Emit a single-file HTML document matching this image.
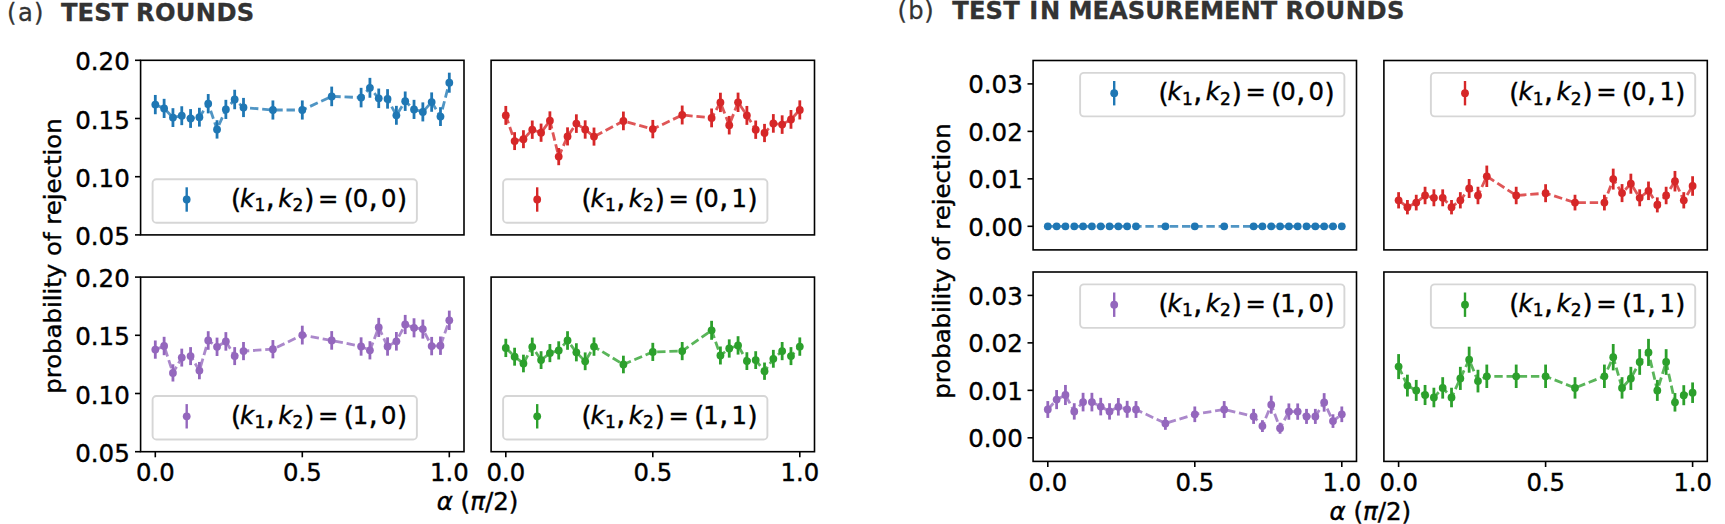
<!DOCTYPE html>
<html><head><meta charset="utf-8"><title>figure</title>
<style>html,body{margin:0;padding:0;background:#fff}svg{display:block}</style></head>
<body>
<svg width="1725" height="524" viewBox="0 0 1725 524" font-family='"DejaVu Sans", "Liberation Sans", sans-serif'>
<style>text{stroke:#000;stroke-width:0.4px}.t{stroke:#333;stroke-width:0.3px}</style>
<rect width="1725" height="524" fill="#fff"/>
<line x1="135" x2="140.6" y1="234.9" y2="234.9" stroke="#000" stroke-width="1.6"/>
<text x="129.8" y="245" font-size="24.5" text-anchor="end">0.05</text>
<line x1="135" x2="140.6" y1="176.7" y2="176.7" stroke="#000" stroke-width="1.6"/>
<text x="129.8" y="186.8" font-size="24.5" text-anchor="end">0.10</text>
<line x1="135" x2="140.6" y1="118.5" y2="118.5" stroke="#000" stroke-width="1.6"/>
<text x="129.8" y="128.6" font-size="24.5" text-anchor="end">0.15</text>
<line x1="135" x2="140.6" y1="60.3" y2="60.3" stroke="#000" stroke-width="1.6"/>
<text x="129.8" y="70.4" font-size="24.5" text-anchor="end">0.20</text>
<polyline fill="none" stroke="#1f77b4" stroke-opacity="0.78" stroke-width="2.8" stroke-dasharray="8.4 3.8" points="155.3,104.6 164.12,108.4 172.94,117.6 181.76,115.7 190.58,118.5 199.4,117.2 208.22,103.7 217.04,129.4 225.86,109.4 234.68,99.5 243.5,107.5 272.9,110 302.3,110 331.7,96.4 361.1,97.6 369.92,87.8 378.74,98.3 387.56,98.9 396.38,115.3 405.2,101.2 414.02,109.4 422.84,111.9 431.66,102.1 440.48,116.6 449.3,82.7"/>
<line x1="155.3" x2="155.3" y1="94.95" y2="114.25" stroke="#1f77b4" stroke-width="2.8"/>
<circle cx="155.3" cy="104.6" r="3.9" fill="#1f77b4"/>
<line x1="164.12" x2="164.12" y1="98.82" y2="117.98" stroke="#1f77b4" stroke-width="2.8"/>
<circle cx="164.12" cy="108.4" r="3.9" fill="#1f77b4"/>
<line x1="172.94" x2="172.94" y1="108.18" y2="127.02" stroke="#1f77b4" stroke-width="2.8"/>
<circle cx="172.94" cy="117.6" r="3.9" fill="#1f77b4"/>
<line x1="181.76" x2="181.76" y1="106.25" y2="125.15" stroke="#1f77b4" stroke-width="2.8"/>
<circle cx="181.76" cy="115.7" r="3.9" fill="#1f77b4"/>
<line x1="190.58" x2="190.58" y1="109.1" y2="127.9" stroke="#1f77b4" stroke-width="2.8"/>
<circle cx="190.58" cy="118.5" r="3.9" fill="#1f77b4"/>
<line x1="199.4" x2="199.4" y1="107.78" y2="126.62" stroke="#1f77b4" stroke-width="2.8"/>
<circle cx="199.4" cy="117.2" r="3.9" fill="#1f77b4"/>
<line x1="208.22" x2="208.22" y1="94.03" y2="113.37" stroke="#1f77b4" stroke-width="2.8"/>
<circle cx="208.22" cy="103.7" r="3.9" fill="#1f77b4"/>
<line x1="217.04" x2="217.04" y1="120.21" y2="138.59" stroke="#1f77b4" stroke-width="2.8"/>
<circle cx="217.04" cy="129.4" r="3.9" fill="#1f77b4"/>
<line x1="225.86" x2="225.86" y1="99.83" y2="118.97" stroke="#1f77b4" stroke-width="2.8"/>
<circle cx="225.86" cy="109.4" r="3.9" fill="#1f77b4"/>
<line x1="234.68" x2="234.68" y1="89.76" y2="109.24" stroke="#1f77b4" stroke-width="2.8"/>
<circle cx="234.68" cy="99.5" r="3.9" fill="#1f77b4"/>
<line x1="243.5" x2="243.5" y1="97.9" y2="117.1" stroke="#1f77b4" stroke-width="2.8"/>
<circle cx="243.5" cy="107.5" r="3.9" fill="#1f77b4"/>
<line x1="272.9" x2="272.9" y1="100.44" y2="119.56" stroke="#1f77b4" stroke-width="2.8"/>
<circle cx="272.9" cy="110" r="3.9" fill="#1f77b4"/>
<line x1="302.3" x2="302.3" y1="100.44" y2="119.56" stroke="#1f77b4" stroke-width="2.8"/>
<circle cx="302.3" cy="110" r="3.9" fill="#1f77b4"/>
<line x1="331.7" x2="331.7" y1="86.61" y2="106.19" stroke="#1f77b4" stroke-width="2.8"/>
<circle cx="331.7" cy="96.4" r="3.9" fill="#1f77b4"/>
<line x1="361.1" x2="361.1" y1="87.83" y2="107.37" stroke="#1f77b4" stroke-width="2.8"/>
<circle cx="361.1" cy="97.6" r="3.9" fill="#1f77b4"/>
<line x1="369.92" x2="369.92" y1="77.86" y2="97.74" stroke="#1f77b4" stroke-width="2.8"/>
<circle cx="369.92" cy="87.8" r="3.9" fill="#1f77b4"/>
<line x1="378.74" x2="378.74" y1="88.54" y2="108.06" stroke="#1f77b4" stroke-width="2.8"/>
<circle cx="378.74" cy="98.3" r="3.9" fill="#1f77b4"/>
<line x1="387.56" x2="387.56" y1="89.15" y2="108.65" stroke="#1f77b4" stroke-width="2.8"/>
<circle cx="387.56" cy="98.9" r="3.9" fill="#1f77b4"/>
<line x1="396.38" x2="396.38" y1="105.84" y2="124.76" stroke="#1f77b4" stroke-width="2.8"/>
<circle cx="396.38" cy="115.3" r="3.9" fill="#1f77b4"/>
<line x1="405.2" x2="405.2" y1="91.49" y2="110.91" stroke="#1f77b4" stroke-width="2.8"/>
<circle cx="405.2" cy="101.2" r="3.9" fill="#1f77b4"/>
<line x1="414.02" x2="414.02" y1="99.83" y2="118.97" stroke="#1f77b4" stroke-width="2.8"/>
<circle cx="414.02" cy="109.4" r="3.9" fill="#1f77b4"/>
<line x1="422.84" x2="422.84" y1="102.38" y2="121.42" stroke="#1f77b4" stroke-width="2.8"/>
<circle cx="422.84" cy="111.9" r="3.9" fill="#1f77b4"/>
<line x1="431.66" x2="431.66" y1="92.4" y2="111.8" stroke="#1f77b4" stroke-width="2.8"/>
<circle cx="431.66" cy="102.1" r="3.9" fill="#1f77b4"/>
<line x1="440.48" x2="440.48" y1="107.17" y2="126.03" stroke="#1f77b4" stroke-width="2.8"/>
<circle cx="440.48" cy="116.6" r="3.9" fill="#1f77b4"/>
<line x1="449.3" x2="449.3" y1="72.68" y2="92.72" stroke="#1f77b4" stroke-width="2.8"/>
<circle cx="449.3" cy="82.7" r="3.9" fill="#1f77b4"/>
<rect x="152.6" y="179.2" width="264.3" height="43.5" rx="3.8" fill="#fff" fill-opacity="0.8" stroke="#ccc" stroke-opacity="0.8" stroke-width="1.9"/>
<line x1="186.7" x2="186.7" y1="187.3" y2="211.7" stroke="#1f77b4" stroke-width="2.4"/>
<circle cx="186.7" cy="199.5" r="3.9" fill="#1f77b4"/>
<text font-size="24.3" fill="#000"><tspan x="230.95" y="207.8" font-size="25.76">(</tspan><tspan x="240.09" y="206.7" font-style="italic">k</tspan><tspan x="254.54" y="210.8" font-size="17.01">1</tspan><tspan x="265.44" y="207.3" font-size="29.65">,</tspan><tspan x="278.29" y="206.7" font-style="italic">k</tspan><tspan x="292.47" y="210.8" font-size="17.01">2</tspan><tspan x="304.15" y="207.8" font-size="25.76">)</tspan><tspan x="318.07" y="206.7">=</tspan><tspan x="343.75" y="207.8" font-size="25.76">(</tspan><tspan x="352.68" y="206.7">0</tspan><tspan x="368.44" y="207.3" font-size="29.65">,</tspan><tspan x="381.08" y="206.7">0</tspan><tspan x="396.9" y="207.8" font-size="25.76">)</tspan></text>
<rect x="140.6" y="60.3" width="323.4" height="174.6" fill="none" stroke="#000" stroke-width="1.6"/>
<polyline fill="none" stroke="#d62728" stroke-opacity="0.78" stroke-width="2.8" stroke-dasharray="8.4 3.8" points="505.8,115.4 514.62,141.1 523.44,139.2 532.26,129.7 541.08,132.7 549.9,120.7 558.72,156.6 567.54,136.4 576.36,123.6 585.18,129.5 594,136.6 623.4,120.9 652.8,129.1 682.2,115 711.6,117.9 720.42,102.4 729.24,125.2 738.06,102.3 746.88,115.4 755.7,129.7 764.52,133 773.34,123.4 782.16,124.6 790.98,119.4 799.8,109.9"/>
<line x1="505.8" x2="505.8" y1="105.94" y2="124.86" stroke="#d62728" stroke-width="2.8"/>
<circle cx="505.8" cy="115.4" r="3.9" fill="#d62728"/>
<line x1="514.62" x2="514.62" y1="132.15" y2="150.05" stroke="#d62728" stroke-width="2.8"/>
<circle cx="514.62" cy="141.1" r="3.9" fill="#d62728"/>
<line x1="523.44" x2="523.44" y1="130.21" y2="148.19" stroke="#d62728" stroke-width="2.8"/>
<circle cx="523.44" cy="139.2" r="3.9" fill="#d62728"/>
<line x1="532.26" x2="532.26" y1="120.52" y2="138.88" stroke="#d62728" stroke-width="2.8"/>
<circle cx="532.26" cy="129.7" r="3.9" fill="#d62728"/>
<line x1="541.08" x2="541.08" y1="123.58" y2="141.82" stroke="#d62728" stroke-width="2.8"/>
<circle cx="541.08" cy="132.7" r="3.9" fill="#d62728"/>
<line x1="549.9" x2="549.9" y1="111.34" y2="130.06" stroke="#d62728" stroke-width="2.8"/>
<circle cx="549.9" cy="120.7" r="3.9" fill="#d62728"/>
<line x1="558.72" x2="558.72" y1="147.99" y2="165.21" stroke="#d62728" stroke-width="2.8"/>
<circle cx="558.72" cy="156.6" r="3.9" fill="#d62728"/>
<line x1="567.54" x2="567.54" y1="127.35" y2="145.45" stroke="#d62728" stroke-width="2.8"/>
<circle cx="567.54" cy="136.4" r="3.9" fill="#d62728"/>
<line x1="576.36" x2="576.36" y1="114.3" y2="132.9" stroke="#d62728" stroke-width="2.8"/>
<circle cx="576.36" cy="123.6" r="3.9" fill="#d62728"/>
<line x1="585.18" x2="585.18" y1="120.31" y2="138.69" stroke="#d62728" stroke-width="2.8"/>
<circle cx="585.18" cy="129.5" r="3.9" fill="#d62728"/>
<line x1="594" x2="594" y1="127.56" y2="145.64" stroke="#d62728" stroke-width="2.8"/>
<circle cx="594" cy="136.6" r="3.9" fill="#d62728"/>
<line x1="623.4" x2="623.4" y1="111.55" y2="130.25" stroke="#d62728" stroke-width="2.8"/>
<circle cx="623.4" cy="120.9" r="3.9" fill="#d62728"/>
<line x1="652.8" x2="652.8" y1="119.91" y2="138.29" stroke="#d62728" stroke-width="2.8"/>
<circle cx="652.8" cy="129.1" r="3.9" fill="#d62728"/>
<line x1="682.2" x2="682.2" y1="105.54" y2="124.46" stroke="#d62728" stroke-width="2.8"/>
<circle cx="682.2" cy="115" r="3.9" fill="#d62728"/>
<line x1="711.6" x2="711.6" y1="108.49" y2="127.31" stroke="#d62728" stroke-width="2.8"/>
<circle cx="711.6" cy="117.9" r="3.9" fill="#d62728"/>
<line x1="720.42" x2="720.42" y1="92.71" y2="112.09" stroke="#d62728" stroke-width="2.8"/>
<circle cx="720.42" cy="102.4" r="3.9" fill="#d62728"/>
<line x1="729.24" x2="729.24" y1="115.93" y2="134.47" stroke="#d62728" stroke-width="2.8"/>
<circle cx="729.24" cy="125.2" r="3.9" fill="#d62728"/>
<line x1="738.06" x2="738.06" y1="92.61" y2="111.99" stroke="#d62728" stroke-width="2.8"/>
<circle cx="738.06" cy="102.3" r="3.9" fill="#d62728"/>
<line x1="746.88" x2="746.88" y1="105.94" y2="124.86" stroke="#d62728" stroke-width="2.8"/>
<circle cx="746.88" cy="115.4" r="3.9" fill="#d62728"/>
<line x1="755.7" x2="755.7" y1="120.52" y2="138.88" stroke="#d62728" stroke-width="2.8"/>
<circle cx="755.7" cy="129.7" r="3.9" fill="#d62728"/>
<line x1="764.52" x2="764.52" y1="123.88" y2="142.12" stroke="#d62728" stroke-width="2.8"/>
<circle cx="764.52" cy="133" r="3.9" fill="#d62728"/>
<line x1="773.34" x2="773.34" y1="114.09" y2="132.71" stroke="#d62728" stroke-width="2.8"/>
<circle cx="773.34" cy="123.4" r="3.9" fill="#d62728"/>
<line x1="782.16" x2="782.16" y1="115.32" y2="133.88" stroke="#d62728" stroke-width="2.8"/>
<circle cx="782.16" cy="124.6" r="3.9" fill="#d62728"/>
<line x1="790.98" x2="790.98" y1="110.02" y2="128.78" stroke="#d62728" stroke-width="2.8"/>
<circle cx="790.98" cy="119.4" r="3.9" fill="#d62728"/>
<line x1="799.8" x2="799.8" y1="100.34" y2="119.46" stroke="#d62728" stroke-width="2.8"/>
<circle cx="799.8" cy="109.9" r="3.9" fill="#d62728"/>
<rect x="503.1" y="179.2" width="264.3" height="43.5" rx="3.8" fill="#fff" fill-opacity="0.8" stroke="#ccc" stroke-opacity="0.8" stroke-width="1.9"/>
<line x1="537.2" x2="537.2" y1="187.3" y2="211.7" stroke="#d62728" stroke-width="2.4"/>
<circle cx="537.2" cy="199.5" r="3.9" fill="#d62728"/>
<text font-size="24.3" fill="#000"><tspan x="581.45" y="207.8" font-size="25.76">(</tspan><tspan x="590.59" y="206.7" font-style="italic">k</tspan><tspan x="605.04" y="210.8" font-size="17.01">1</tspan><tspan x="615.94" y="207.3" font-size="29.65">,</tspan><tspan x="628.79" y="206.7" font-style="italic">k</tspan><tspan x="642.97" y="210.8" font-size="17.01">2</tspan><tspan x="654.65" y="207.8" font-size="25.76">)</tspan><tspan x="668.57" y="206.7">=</tspan><tspan x="694.25" y="207.8" font-size="25.76">(</tspan><tspan x="703.18" y="206.7">0</tspan><tspan x="718.94" y="207.3" font-size="29.65">,</tspan><tspan x="731.58" y="206.7">1</tspan><tspan x="747.4" y="207.8" font-size="25.76">)</tspan></text>
<rect x="491.1" y="60.3" width="323.4" height="174.6" fill="none" stroke="#000" stroke-width="1.6"/>
<line x1="135" x2="140.6" y1="451.7" y2="451.7" stroke="#000" stroke-width="1.6"/>
<text x="129.8" y="461.8" font-size="24.5" text-anchor="end">0.05</text>
<line x1="135" x2="140.6" y1="393.5" y2="393.5" stroke="#000" stroke-width="1.6"/>
<text x="129.8" y="403.6" font-size="24.5" text-anchor="end">0.10</text>
<line x1="135" x2="140.6" y1="335.3" y2="335.3" stroke="#000" stroke-width="1.6"/>
<text x="129.8" y="345.4" font-size="24.5" text-anchor="end">0.15</text>
<line x1="135" x2="140.6" y1="277.1" y2="277.1" stroke="#000" stroke-width="1.6"/>
<text x="129.8" y="287.2" font-size="24.5" text-anchor="end">0.20</text>
<line x1="155.3" x2="155.3" y1="451.7" y2="457.3" stroke="#000" stroke-width="1.6"/>
<text x="155.4" y="480.7" font-size="24.3" text-anchor="middle">0.0</text>
<line x1="302.3" x2="302.3" y1="451.7" y2="457.3" stroke="#000" stroke-width="1.6"/>
<text x="302.4" y="480.7" font-size="24.3" text-anchor="middle">0.5</text>
<line x1="449.3" x2="449.3" y1="451.7" y2="457.3" stroke="#000" stroke-width="1.6"/>
<text x="449.4" y="480.7" font-size="24.3" text-anchor="middle">1.0</text>
<polyline fill="none" stroke="#9467bd" stroke-opacity="0.78" stroke-width="2.8" stroke-dasharray="8.4 3.8" points="155.3,349.6 164.12,346 172.94,372.9 181.76,357.6 190.58,356.1 199.4,370.6 208.22,340.5 217.04,346.8 225.86,341.4 234.68,356.1 243.5,351.1 272.9,349.2 302.3,335.1 331.7,340.4 361.1,346.5 369.92,350.3 378.74,327.4 387.56,346.5 396.38,341.3 405.2,324.5 414.02,327.8 422.84,329.1 431.66,346.1 440.48,345.7 449.3,320.3"/>
<line x1="155.3" x2="155.3" y1="340.48" y2="358.72" stroke="#9467bd" stroke-width="2.8"/>
<circle cx="155.3" cy="349.6" r="3.9" fill="#9467bd"/>
<line x1="164.12" x2="164.12" y1="336.81" y2="355.19" stroke="#9467bd" stroke-width="2.8"/>
<circle cx="164.12" cy="346" r="3.9" fill="#9467bd"/>
<line x1="172.94" x2="172.94" y1="364.28" y2="381.52" stroke="#9467bd" stroke-width="2.8"/>
<circle cx="172.94" cy="372.9" r="3.9" fill="#9467bd"/>
<line x1="181.76" x2="181.76" y1="348.65" y2="366.55" stroke="#9467bd" stroke-width="2.8"/>
<circle cx="181.76" cy="357.6" r="3.9" fill="#9467bd"/>
<line x1="190.58" x2="190.58" y1="347.11" y2="365.09" stroke="#9467bd" stroke-width="2.8"/>
<circle cx="190.58" cy="356.1" r="3.9" fill="#9467bd"/>
<line x1="199.4" x2="199.4" y1="361.93" y2="379.27" stroke="#9467bd" stroke-width="2.8"/>
<circle cx="199.4" cy="370.6" r="3.9" fill="#9467bd"/>
<line x1="208.22" x2="208.22" y1="331.2" y2="349.8" stroke="#9467bd" stroke-width="2.8"/>
<circle cx="208.22" cy="340.5" r="3.9" fill="#9467bd"/>
<line x1="217.04" x2="217.04" y1="337.62" y2="355.98" stroke="#9467bd" stroke-width="2.8"/>
<circle cx="217.04" cy="346.8" r="3.9" fill="#9467bd"/>
<line x1="225.86" x2="225.86" y1="332.12" y2="350.68" stroke="#9467bd" stroke-width="2.8"/>
<circle cx="225.86" cy="341.4" r="3.9" fill="#9467bd"/>
<line x1="234.68" x2="234.68" y1="347.11" y2="365.09" stroke="#9467bd" stroke-width="2.8"/>
<circle cx="234.68" cy="356.1" r="3.9" fill="#9467bd"/>
<line x1="243.5" x2="243.5" y1="342.01" y2="360.19" stroke="#9467bd" stroke-width="2.8"/>
<circle cx="243.5" cy="351.1" r="3.9" fill="#9467bd"/>
<line x1="272.9" x2="272.9" y1="340.07" y2="358.33" stroke="#9467bd" stroke-width="2.8"/>
<circle cx="272.9" cy="349.2" r="3.9" fill="#9467bd"/>
<line x1="302.3" x2="302.3" y1="325.7" y2="344.5" stroke="#9467bd" stroke-width="2.8"/>
<circle cx="302.3" cy="335.1" r="3.9" fill="#9467bd"/>
<line x1="331.7" x2="331.7" y1="331.1" y2="349.7" stroke="#9467bd" stroke-width="2.8"/>
<circle cx="331.7" cy="340.4" r="3.9" fill="#9467bd"/>
<line x1="361.1" x2="361.1" y1="337.32" y2="355.68" stroke="#9467bd" stroke-width="2.8"/>
<circle cx="361.1" cy="346.5" r="3.9" fill="#9467bd"/>
<line x1="369.92" x2="369.92" y1="341.19" y2="359.41" stroke="#9467bd" stroke-width="2.8"/>
<circle cx="369.92" cy="350.3" r="3.9" fill="#9467bd"/>
<line x1="378.74" x2="378.74" y1="317.85" y2="336.95" stroke="#9467bd" stroke-width="2.8"/>
<circle cx="378.74" cy="327.4" r="3.9" fill="#9467bd"/>
<line x1="387.56" x2="387.56" y1="337.32" y2="355.68" stroke="#9467bd" stroke-width="2.8"/>
<circle cx="387.56" cy="346.5" r="3.9" fill="#9467bd"/>
<line x1="396.38" x2="396.38" y1="332.02" y2="350.58" stroke="#9467bd" stroke-width="2.8"/>
<circle cx="396.38" cy="341.3" r="3.9" fill="#9467bd"/>
<line x1="405.2" x2="405.2" y1="314.9" y2="334.1" stroke="#9467bd" stroke-width="2.8"/>
<circle cx="405.2" cy="324.5" r="3.9" fill="#9467bd"/>
<line x1="414.02" x2="414.02" y1="318.26" y2="337.34" stroke="#9467bd" stroke-width="2.8"/>
<circle cx="414.02" cy="327.8" r="3.9" fill="#9467bd"/>
<line x1="422.84" x2="422.84" y1="319.59" y2="338.61" stroke="#9467bd" stroke-width="2.8"/>
<circle cx="422.84" cy="329.1" r="3.9" fill="#9467bd"/>
<line x1="431.66" x2="431.66" y1="336.91" y2="355.29" stroke="#9467bd" stroke-width="2.8"/>
<circle cx="431.66" cy="346.1" r="3.9" fill="#9467bd"/>
<line x1="440.48" x2="440.48" y1="336.5" y2="354.9" stroke="#9467bd" stroke-width="2.8"/>
<circle cx="440.48" cy="345.7" r="3.9" fill="#9467bd"/>
<line x1="449.3" x2="449.3" y1="310.63" y2="329.97" stroke="#9467bd" stroke-width="2.8"/>
<circle cx="449.3" cy="320.3" r="3.9" fill="#9467bd"/>
<rect x="152.6" y="396" width="264.3" height="43.5" rx="3.8" fill="#fff" fill-opacity="0.8" stroke="#ccc" stroke-opacity="0.8" stroke-width="1.9"/>
<line x1="186.7" x2="186.7" y1="404.1" y2="428.5" stroke="#9467bd" stroke-width="2.4"/>
<circle cx="186.7" cy="416.3" r="3.9" fill="#9467bd"/>
<text font-size="24.3" fill="#000"><tspan x="230.95" y="424.6" font-size="25.76">(</tspan><tspan x="240.09" y="423.5" font-style="italic">k</tspan><tspan x="254.54" y="427.6" font-size="17.01">1</tspan><tspan x="265.44" y="424.1" font-size="29.65">,</tspan><tspan x="278.29" y="423.5" font-style="italic">k</tspan><tspan x="292.47" y="427.6" font-size="17.01">2</tspan><tspan x="304.15" y="424.6" font-size="25.76">)</tspan><tspan x="318.07" y="423.5">=</tspan><tspan x="343.75" y="424.6" font-size="25.76">(</tspan><tspan x="352.68" y="423.5">1</tspan><tspan x="368.44" y="424.1" font-size="29.65">,</tspan><tspan x="381.08" y="423.5">0</tspan><tspan x="396.9" y="424.6" font-size="25.76">)</tspan></text>
<rect x="140.6" y="277.1" width="323.4" height="174.6" fill="none" stroke="#000" stroke-width="1.6"/>
<line x1="505.8" x2="505.8" y1="451.7" y2="457.3" stroke="#000" stroke-width="1.6"/>
<text x="505.9" y="480.7" font-size="24.3" text-anchor="middle">0.0</text>
<line x1="652.8" x2="652.8" y1="451.7" y2="457.3" stroke="#000" stroke-width="1.6"/>
<text x="652.9" y="480.7" font-size="24.3" text-anchor="middle">0.5</text>
<line x1="799.8" x2="799.8" y1="451.7" y2="457.3" stroke="#000" stroke-width="1.6"/>
<text x="799.9" y="480.7" font-size="24.3" text-anchor="middle">1.0</text>
<polyline fill="none" stroke="#2ca02c" stroke-opacity="0.78" stroke-width="2.8" stroke-dasharray="8.4 3.8" points="505.8,347.9 514.62,356.7 523.44,363.5 532.26,346.8 541.08,360.1 549.9,353.1 558.72,350.4 567.54,340.5 576.36,352.3 585.18,361.3 594,346.6 623.4,364.5 652.8,351.9 682.2,351.1 711.6,330.3 720.42,355.5 729.24,348.5 738.06,345.4 746.88,361.1 755.7,360.1 764.52,371.2 773.34,358.8 782.16,351.1 790.98,356.1 799.8,346.6"/>
<line x1="505.8" x2="505.8" y1="338.75" y2="357.05" stroke="#2ca02c" stroke-width="2.8"/>
<circle cx="505.8" cy="347.9" r="3.9" fill="#2ca02c"/>
<line x1="514.62" x2="514.62" y1="347.73" y2="365.67" stroke="#2ca02c" stroke-width="2.8"/>
<circle cx="514.62" cy="356.7" r="3.9" fill="#2ca02c"/>
<line x1="523.44" x2="523.44" y1="354.67" y2="372.33" stroke="#2ca02c" stroke-width="2.8"/>
<circle cx="523.44" cy="363.5" r="3.9" fill="#2ca02c"/>
<line x1="532.26" x2="532.26" y1="337.62" y2="355.98" stroke="#2ca02c" stroke-width="2.8"/>
<circle cx="532.26" cy="346.8" r="3.9" fill="#2ca02c"/>
<line x1="541.08" x2="541.08" y1="351.2" y2="369" stroke="#2ca02c" stroke-width="2.8"/>
<circle cx="541.08" cy="360.1" r="3.9" fill="#2ca02c"/>
<line x1="549.9" x2="549.9" y1="344.05" y2="362.15" stroke="#2ca02c" stroke-width="2.8"/>
<circle cx="549.9" cy="353.1" r="3.9" fill="#2ca02c"/>
<line x1="558.72" x2="558.72" y1="341.3" y2="359.5" stroke="#2ca02c" stroke-width="2.8"/>
<circle cx="558.72" cy="350.4" r="3.9" fill="#2ca02c"/>
<line x1="567.54" x2="567.54" y1="331.2" y2="349.8" stroke="#2ca02c" stroke-width="2.8"/>
<circle cx="567.54" cy="340.5" r="3.9" fill="#2ca02c"/>
<line x1="576.36" x2="576.36" y1="343.24" y2="361.36" stroke="#2ca02c" stroke-width="2.8"/>
<circle cx="576.36" cy="352.3" r="3.9" fill="#2ca02c"/>
<line x1="585.18" x2="585.18" y1="352.42" y2="370.18" stroke="#2ca02c" stroke-width="2.8"/>
<circle cx="585.18" cy="361.3" r="3.9" fill="#2ca02c"/>
<line x1="594" x2="594" y1="337.42" y2="355.78" stroke="#2ca02c" stroke-width="2.8"/>
<circle cx="594" cy="346.6" r="3.9" fill="#2ca02c"/>
<line x1="623.4" x2="623.4" y1="355.69" y2="373.31" stroke="#2ca02c" stroke-width="2.8"/>
<circle cx="623.4" cy="364.5" r="3.9" fill="#2ca02c"/>
<line x1="652.8" x2="652.8" y1="342.83" y2="360.97" stroke="#2ca02c" stroke-width="2.8"/>
<circle cx="652.8" cy="351.9" r="3.9" fill="#2ca02c"/>
<line x1="682.2" x2="682.2" y1="342.01" y2="360.19" stroke="#2ca02c" stroke-width="2.8"/>
<circle cx="682.2" cy="351.1" r="3.9" fill="#2ca02c"/>
<line x1="711.6" x2="711.6" y1="320.81" y2="339.79" stroke="#2ca02c" stroke-width="2.8"/>
<circle cx="711.6" cy="330.3" r="3.9" fill="#2ca02c"/>
<line x1="720.42" x2="720.42" y1="346.5" y2="364.5" stroke="#2ca02c" stroke-width="2.8"/>
<circle cx="720.42" cy="355.5" r="3.9" fill="#2ca02c"/>
<line x1="729.24" x2="729.24" y1="339.36" y2="357.64" stroke="#2ca02c" stroke-width="2.8"/>
<circle cx="729.24" cy="348.5" r="3.9" fill="#2ca02c"/>
<line x1="738.06" x2="738.06" y1="336.2" y2="354.6" stroke="#2ca02c" stroke-width="2.8"/>
<circle cx="738.06" cy="345.4" r="3.9" fill="#2ca02c"/>
<line x1="746.88" x2="746.88" y1="352.22" y2="369.98" stroke="#2ca02c" stroke-width="2.8"/>
<circle cx="746.88" cy="361.1" r="3.9" fill="#2ca02c"/>
<line x1="755.7" x2="755.7" y1="351.2" y2="369" stroke="#2ca02c" stroke-width="2.8"/>
<circle cx="755.7" cy="360.1" r="3.9" fill="#2ca02c"/>
<line x1="764.52" x2="764.52" y1="362.54" y2="379.86" stroke="#2ca02c" stroke-width="2.8"/>
<circle cx="764.52" cy="371.2" r="3.9" fill="#2ca02c"/>
<line x1="773.34" x2="773.34" y1="349.87" y2="367.73" stroke="#2ca02c" stroke-width="2.8"/>
<circle cx="773.34" cy="358.8" r="3.9" fill="#2ca02c"/>
<line x1="782.16" x2="782.16" y1="342.01" y2="360.19" stroke="#2ca02c" stroke-width="2.8"/>
<circle cx="782.16" cy="351.1" r="3.9" fill="#2ca02c"/>
<line x1="790.98" x2="790.98" y1="347.11" y2="365.09" stroke="#2ca02c" stroke-width="2.8"/>
<circle cx="790.98" cy="356.1" r="3.9" fill="#2ca02c"/>
<line x1="799.8" x2="799.8" y1="337.42" y2="355.78" stroke="#2ca02c" stroke-width="2.8"/>
<circle cx="799.8" cy="346.6" r="3.9" fill="#2ca02c"/>
<rect x="503.1" y="396" width="264.3" height="43.5" rx="3.8" fill="#fff" fill-opacity="0.8" stroke="#ccc" stroke-opacity="0.8" stroke-width="1.9"/>
<line x1="537.2" x2="537.2" y1="404.1" y2="428.5" stroke="#2ca02c" stroke-width="2.4"/>
<circle cx="537.2" cy="416.3" r="3.9" fill="#2ca02c"/>
<text font-size="24.3" fill="#000"><tspan x="581.45" y="424.6" font-size="25.76">(</tspan><tspan x="590.59" y="423.5" font-style="italic">k</tspan><tspan x="605.04" y="427.6" font-size="17.01">1</tspan><tspan x="615.94" y="424.1" font-size="29.65">,</tspan><tspan x="628.79" y="423.5" font-style="italic">k</tspan><tspan x="642.97" y="427.6" font-size="17.01">2</tspan><tspan x="654.65" y="424.6" font-size="25.76">)</tspan><tspan x="668.57" y="423.5">=</tspan><tspan x="694.25" y="424.6" font-size="25.76">(</tspan><tspan x="703.18" y="423.5">1</tspan><tspan x="718.94" y="424.1" font-size="29.65">,</tspan><tspan x="731.58" y="423.5">1</tspan><tspan x="747.4" y="424.6" font-size="25.76">)</tspan></text>
<rect x="491.1" y="277.1" width="323.4" height="174.6" fill="none" stroke="#000" stroke-width="1.6"/>
<line x1="1027.5" x2="1033.1" y1="226.31" y2="226.31" stroke="#000" stroke-width="1.6"/>
<text x="1022.8" y="235.81" font-size="24.5" text-anchor="end">0.00</text>
<line x1="1027.5" x2="1033.1" y1="178.84" y2="178.84" stroke="#000" stroke-width="1.6"/>
<text x="1022.8" y="188.34" font-size="24.5" text-anchor="end">0.01</text>
<line x1="1027.5" x2="1033.1" y1="131.37" y2="131.37" stroke="#000" stroke-width="1.6"/>
<text x="1022.8" y="140.87" font-size="24.5" text-anchor="end">0.02</text>
<line x1="1027.5" x2="1033.1" y1="83.9" y2="83.9" stroke="#000" stroke-width="1.6"/>
<text x="1022.8" y="93.4" font-size="24.5" text-anchor="end">0.03</text>
<polyline fill="none" stroke="#1f77b4" stroke-opacity="0.78" stroke-width="2.8" stroke-dasharray="8.4 3.8" points="1047.8,226.3 1056.62,226.3 1065.44,226.3 1074.26,226.3 1083.08,226.3 1091.9,226.3 1100.72,226.3 1109.54,226.3 1118.36,226.3 1127.18,226.3 1136,226.3 1165.4,226.3 1194.8,226.3 1224.2,226.3 1253.6,226.3 1262.42,226.3 1271.24,226.3 1280.06,226.3 1288.88,226.3 1297.7,226.3 1306.52,226.3 1315.34,226.3 1324.16,226.3 1332.98,226.3 1341.8,226.3"/>
<line x1="1047.8" x2="1047.8" y1="224.75" y2="227.85" stroke="#1f77b4" stroke-width="2.8"/>
<circle cx="1047.8" cy="226.3" r="3.9" fill="#1f77b4"/>
<line x1="1056.62" x2="1056.62" y1="224.75" y2="227.85" stroke="#1f77b4" stroke-width="2.8"/>
<circle cx="1056.62" cy="226.3" r="3.9" fill="#1f77b4"/>
<line x1="1065.44" x2="1065.44" y1="224.75" y2="227.85" stroke="#1f77b4" stroke-width="2.8"/>
<circle cx="1065.44" cy="226.3" r="3.9" fill="#1f77b4"/>
<line x1="1074.26" x2="1074.26" y1="224.75" y2="227.85" stroke="#1f77b4" stroke-width="2.8"/>
<circle cx="1074.26" cy="226.3" r="3.9" fill="#1f77b4"/>
<line x1="1083.08" x2="1083.08" y1="224.75" y2="227.85" stroke="#1f77b4" stroke-width="2.8"/>
<circle cx="1083.08" cy="226.3" r="3.9" fill="#1f77b4"/>
<line x1="1091.9" x2="1091.9" y1="224.75" y2="227.85" stroke="#1f77b4" stroke-width="2.8"/>
<circle cx="1091.9" cy="226.3" r="3.9" fill="#1f77b4"/>
<line x1="1100.72" x2="1100.72" y1="224.75" y2="227.85" stroke="#1f77b4" stroke-width="2.8"/>
<circle cx="1100.72" cy="226.3" r="3.9" fill="#1f77b4"/>
<line x1="1109.54" x2="1109.54" y1="224.75" y2="227.85" stroke="#1f77b4" stroke-width="2.8"/>
<circle cx="1109.54" cy="226.3" r="3.9" fill="#1f77b4"/>
<line x1="1118.36" x2="1118.36" y1="224.75" y2="227.85" stroke="#1f77b4" stroke-width="2.8"/>
<circle cx="1118.36" cy="226.3" r="3.9" fill="#1f77b4"/>
<line x1="1127.18" x2="1127.18" y1="224.75" y2="227.85" stroke="#1f77b4" stroke-width="2.8"/>
<circle cx="1127.18" cy="226.3" r="3.9" fill="#1f77b4"/>
<line x1="1136" x2="1136" y1="224.75" y2="227.85" stroke="#1f77b4" stroke-width="2.8"/>
<circle cx="1136" cy="226.3" r="3.9" fill="#1f77b4"/>
<line x1="1165.4" x2="1165.4" y1="224.75" y2="227.85" stroke="#1f77b4" stroke-width="2.8"/>
<circle cx="1165.4" cy="226.3" r="3.9" fill="#1f77b4"/>
<line x1="1194.8" x2="1194.8" y1="224.75" y2="227.85" stroke="#1f77b4" stroke-width="2.8"/>
<circle cx="1194.8" cy="226.3" r="3.9" fill="#1f77b4"/>
<line x1="1224.2" x2="1224.2" y1="224.75" y2="227.85" stroke="#1f77b4" stroke-width="2.8"/>
<circle cx="1224.2" cy="226.3" r="3.9" fill="#1f77b4"/>
<line x1="1253.6" x2="1253.6" y1="224.75" y2="227.85" stroke="#1f77b4" stroke-width="2.8"/>
<circle cx="1253.6" cy="226.3" r="3.9" fill="#1f77b4"/>
<line x1="1262.42" x2="1262.42" y1="224.75" y2="227.85" stroke="#1f77b4" stroke-width="2.8"/>
<circle cx="1262.42" cy="226.3" r="3.9" fill="#1f77b4"/>
<line x1="1271.24" x2="1271.24" y1="224.75" y2="227.85" stroke="#1f77b4" stroke-width="2.8"/>
<circle cx="1271.24" cy="226.3" r="3.9" fill="#1f77b4"/>
<line x1="1280.06" x2="1280.06" y1="224.75" y2="227.85" stroke="#1f77b4" stroke-width="2.8"/>
<circle cx="1280.06" cy="226.3" r="3.9" fill="#1f77b4"/>
<line x1="1288.88" x2="1288.88" y1="224.75" y2="227.85" stroke="#1f77b4" stroke-width="2.8"/>
<circle cx="1288.88" cy="226.3" r="3.9" fill="#1f77b4"/>
<line x1="1297.7" x2="1297.7" y1="224.75" y2="227.85" stroke="#1f77b4" stroke-width="2.8"/>
<circle cx="1297.7" cy="226.3" r="3.9" fill="#1f77b4"/>
<line x1="1306.52" x2="1306.52" y1="224.75" y2="227.85" stroke="#1f77b4" stroke-width="2.8"/>
<circle cx="1306.52" cy="226.3" r="3.9" fill="#1f77b4"/>
<line x1="1315.34" x2="1315.34" y1="224.75" y2="227.85" stroke="#1f77b4" stroke-width="2.8"/>
<circle cx="1315.34" cy="226.3" r="3.9" fill="#1f77b4"/>
<line x1="1324.16" x2="1324.16" y1="224.75" y2="227.85" stroke="#1f77b4" stroke-width="2.8"/>
<circle cx="1324.16" cy="226.3" r="3.9" fill="#1f77b4"/>
<line x1="1332.98" x2="1332.98" y1="224.75" y2="227.85" stroke="#1f77b4" stroke-width="2.8"/>
<circle cx="1332.98" cy="226.3" r="3.9" fill="#1f77b4"/>
<line x1="1341.8" x2="1341.8" y1="224.75" y2="227.85" stroke="#1f77b4" stroke-width="2.8"/>
<circle cx="1341.8" cy="226.3" r="3.9" fill="#1f77b4"/>
<rect x="1080.1" y="72.9" width="264.3" height="43.5" rx="3.8" fill="#fff" fill-opacity="0.8" stroke="#ccc" stroke-opacity="0.8" stroke-width="1.9"/>
<line x1="1114.2" x2="1114.2" y1="81" y2="105.4" stroke="#1f77b4" stroke-width="2.4"/>
<circle cx="1114.2" cy="93.2" r="3.9" fill="#1f77b4"/>
<text font-size="24.3" fill="#000"><tspan x="1158.45" y="101.5" font-size="25.76">(</tspan><tspan x="1167.59" y="100.4" font-style="italic">k</tspan><tspan x="1182.04" y="104.5" font-size="17.01">1</tspan><tspan x="1192.94" y="101" font-size="29.65">,</tspan><tspan x="1205.79" y="100.4" font-style="italic">k</tspan><tspan x="1219.97" y="104.5" font-size="17.01">2</tspan><tspan x="1231.65" y="101.5" font-size="25.76">)</tspan><tspan x="1245.57" y="100.4">=</tspan><tspan x="1271.25" y="101.5" font-size="25.76">(</tspan><tspan x="1280.18" y="100.4">0</tspan><tspan x="1295.94" y="101" font-size="29.65">,</tspan><tspan x="1308.58" y="100.4">0</tspan><tspan x="1324.4" y="101.5" font-size="25.76">)</tspan></text>
<rect x="1033.1" y="60.5" width="323.4" height="189.4" fill="none" stroke="#000" stroke-width="1.6"/>
<polyline fill="none" stroke="#d62728" stroke-opacity="0.78" stroke-width="2.8" stroke-dasharray="8.4 3.8" points="1398.6,200.3 1407.42,207.2 1416.24,202.6 1425.06,195.5 1433.88,197.8 1442.7,197.8 1451.52,207.2 1460.34,200.3 1469.16,188.5 1477.98,195.5 1486.8,176.3 1516.2,195.5 1545.6,193.2 1575,202.6 1604.4,202.6 1613.22,179.1 1622.04,193.1 1630.86,183.7 1639.68,197.8 1648.5,190.8 1657.32,204.9 1666.14,195.5 1674.96,181.2 1683.78,200.3 1692.6,186"/>
<line x1="1398.6" x2="1398.6" y1="192.16" y2="208.44" stroke="#d62728" stroke-width="2.8"/>
<circle cx="1398.6" cy="200.3" r="3.9" fill="#d62728"/>
<line x1="1407.42" x2="1407.42" y1="200.01" y2="214.39" stroke="#d62728" stroke-width="2.8"/>
<circle cx="1407.42" cy="207.2" r="3.9" fill="#d62728"/>
<line x1="1416.24" x2="1416.24" y1="194.76" y2="210.44" stroke="#d62728" stroke-width="2.8"/>
<circle cx="1416.24" cy="202.6" r="3.9" fill="#d62728"/>
<line x1="1425.06" x2="1425.06" y1="186.76" y2="204.24" stroke="#d62728" stroke-width="2.8"/>
<circle cx="1425.06" cy="195.5" r="3.9" fill="#d62728"/>
<line x1="1433.88" x2="1433.88" y1="189.34" y2="206.26" stroke="#d62728" stroke-width="2.8"/>
<circle cx="1433.88" cy="197.8" r="3.9" fill="#d62728"/>
<line x1="1442.7" x2="1442.7" y1="189.34" y2="206.26" stroke="#d62728" stroke-width="2.8"/>
<circle cx="1442.7" cy="197.8" r="3.9" fill="#d62728"/>
<line x1="1451.52" x2="1451.52" y1="200.01" y2="214.39" stroke="#d62728" stroke-width="2.8"/>
<circle cx="1451.52" cy="207.2" r="3.9" fill="#d62728"/>
<line x1="1460.34" x2="1460.34" y1="192.16" y2="208.44" stroke="#d62728" stroke-width="2.8"/>
<circle cx="1460.34" cy="200.3" r="3.9" fill="#d62728"/>
<line x1="1469.16" x2="1469.16" y1="178.98" y2="198.02" stroke="#d62728" stroke-width="2.8"/>
<circle cx="1469.16" cy="188.5" r="3.9" fill="#d62728"/>
<line x1="1477.98" x2="1477.98" y1="186.76" y2="204.24" stroke="#d62728" stroke-width="2.8"/>
<circle cx="1477.98" cy="195.5" r="3.9" fill="#d62728"/>
<line x1="1486.8" x2="1486.8" y1="165.57" y2="187.03" stroke="#d62728" stroke-width="2.8"/>
<circle cx="1486.8" cy="176.3" r="3.9" fill="#d62728"/>
<line x1="1516.2" x2="1516.2" y1="186.76" y2="204.24" stroke="#d62728" stroke-width="2.8"/>
<circle cx="1516.2" cy="195.5" r="3.9" fill="#d62728"/>
<line x1="1545.6" x2="1545.6" y1="184.2" y2="202.2" stroke="#d62728" stroke-width="2.8"/>
<circle cx="1545.6" cy="193.2" r="3.9" fill="#d62728"/>
<line x1="1575" x2="1575" y1="194.76" y2="210.44" stroke="#d62728" stroke-width="2.8"/>
<circle cx="1575" cy="202.6" r="3.9" fill="#d62728"/>
<line x1="1604.4" x2="1604.4" y1="194.76" y2="210.44" stroke="#d62728" stroke-width="2.8"/>
<circle cx="1604.4" cy="202.6" r="3.9" fill="#d62728"/>
<line x1="1613.22" x2="1613.22" y1="168.63" y2="189.57" stroke="#d62728" stroke-width="2.8"/>
<circle cx="1613.22" cy="179.1" r="3.9" fill="#d62728"/>
<line x1="1622.04" x2="1622.04" y1="184.09" y2="202.11" stroke="#d62728" stroke-width="2.8"/>
<circle cx="1622.04" cy="193.1" r="3.9" fill="#d62728"/>
<line x1="1630.86" x2="1630.86" y1="173.68" y2="193.72" stroke="#d62728" stroke-width="2.8"/>
<circle cx="1630.86" cy="183.7" r="3.9" fill="#d62728"/>
<line x1="1639.68" x2="1639.68" y1="189.34" y2="206.26" stroke="#d62728" stroke-width="2.8"/>
<circle cx="1639.68" cy="197.8" r="3.9" fill="#d62728"/>
<line x1="1648.5" x2="1648.5" y1="181.53" y2="200.07" stroke="#d62728" stroke-width="2.8"/>
<circle cx="1648.5" cy="190.8" r="3.9" fill="#d62728"/>
<line x1="1657.32" x2="1657.32" y1="197.38" y2="212.42" stroke="#d62728" stroke-width="2.8"/>
<circle cx="1657.32" cy="204.9" r="3.9" fill="#d62728"/>
<line x1="1666.14" x2="1666.14" y1="186.76" y2="204.24" stroke="#d62728" stroke-width="2.8"/>
<circle cx="1666.14" cy="195.5" r="3.9" fill="#d62728"/>
<line x1="1674.96" x2="1674.96" y1="170.94" y2="191.46" stroke="#d62728" stroke-width="2.8"/>
<circle cx="1674.96" cy="181.2" r="3.9" fill="#d62728"/>
<line x1="1683.78" x2="1683.78" y1="192.16" y2="208.44" stroke="#d62728" stroke-width="2.8"/>
<circle cx="1683.78" cy="200.3" r="3.9" fill="#d62728"/>
<line x1="1692.6" x2="1692.6" y1="176.22" y2="195.78" stroke="#d62728" stroke-width="2.8"/>
<circle cx="1692.6" cy="186" r="3.9" fill="#d62728"/>
<rect x="1430.9" y="72.9" width="264.3" height="43.5" rx="3.8" fill="#fff" fill-opacity="0.8" stroke="#ccc" stroke-opacity="0.8" stroke-width="1.9"/>
<line x1="1465" x2="1465" y1="81" y2="105.4" stroke="#d62728" stroke-width="2.4"/>
<circle cx="1465" cy="93.2" r="3.9" fill="#d62728"/>
<text font-size="24.3" fill="#000"><tspan x="1509.25" y="101.5" font-size="25.76">(</tspan><tspan x="1518.39" y="100.4" font-style="italic">k</tspan><tspan x="1532.84" y="104.5" font-size="17.01">1</tspan><tspan x="1543.74" y="101" font-size="29.65">,</tspan><tspan x="1556.59" y="100.4" font-style="italic">k</tspan><tspan x="1570.77" y="104.5" font-size="17.01">2</tspan><tspan x="1582.45" y="101.5" font-size="25.76">)</tspan><tspan x="1596.37" y="100.4">=</tspan><tspan x="1622.05" y="101.5" font-size="25.76">(</tspan><tspan x="1630.98" y="100.4">0</tspan><tspan x="1646.74" y="101" font-size="29.65">,</tspan><tspan x="1659.38" y="100.4">1</tspan><tspan x="1675.2" y="101.5" font-size="25.76">)</tspan></text>
<rect x="1383.9" y="60.5" width="323.4" height="189.4" fill="none" stroke="#000" stroke-width="1.6"/>
<line x1="1027.5" x2="1033.1" y1="437.81" y2="437.81" stroke="#000" stroke-width="1.6"/>
<text x="1022.8" y="447.31" font-size="24.5" text-anchor="end">0.00</text>
<line x1="1027.5" x2="1033.1" y1="390.34" y2="390.34" stroke="#000" stroke-width="1.6"/>
<text x="1022.8" y="399.84" font-size="24.5" text-anchor="end">0.01</text>
<line x1="1027.5" x2="1033.1" y1="342.87" y2="342.87" stroke="#000" stroke-width="1.6"/>
<text x="1022.8" y="352.37" font-size="24.5" text-anchor="end">0.02</text>
<line x1="1027.5" x2="1033.1" y1="295.4" y2="295.4" stroke="#000" stroke-width="1.6"/>
<text x="1022.8" y="304.9" font-size="24.5" text-anchor="end">0.03</text>
<line x1="1047.8" x2="1047.8" y1="461.4" y2="467" stroke="#000" stroke-width="1.6"/>
<text x="1047.9" y="491.4" font-size="24.3" text-anchor="middle">0.0</text>
<line x1="1194.8" x2="1194.8" y1="461.4" y2="467" stroke="#000" stroke-width="1.6"/>
<text x="1194.9" y="491.4" font-size="24.3" text-anchor="middle">0.5</text>
<line x1="1341.8" x2="1341.8" y1="461.4" y2="467" stroke="#000" stroke-width="1.6"/>
<text x="1341.9" y="491.4" font-size="24.3" text-anchor="middle">1.0</text>
<polyline fill="none" stroke="#9467bd" stroke-opacity="0.78" stroke-width="2.8" stroke-dasharray="8.4 3.8" points="1047.8,409.5 1056.62,399.6 1065.44,395 1074.26,411.4 1083.08,402.1 1091.9,402.1 1100.72,406.6 1109.54,411.4 1118.36,406.8 1127.18,409.3 1136,409.5 1165.4,423.4 1194.8,414.3 1224.2,409.5 1253.6,416.4 1262.42,426.1 1271.24,404.7 1280.06,428.2 1288.88,411.6 1297.7,411.6 1306.52,416.4 1315.34,416.4 1324.16,402.4 1332.98,421.1 1341.8,414.3"/>
<line x1="1047.8" x2="1047.8" y1="401.07" y2="417.93" stroke="#9467bd" stroke-width="2.8"/>
<circle cx="1047.8" cy="409.5" r="3.9" fill="#9467bd"/>
<line x1="1056.62" x2="1056.62" y1="390.04" y2="409.16" stroke="#9467bd" stroke-width="2.8"/>
<circle cx="1056.62" cy="399.6" r="3.9" fill="#9467bd"/>
<line x1="1065.44" x2="1065.44" y1="384.96" y2="405.04" stroke="#9467bd" stroke-width="2.8"/>
<circle cx="1065.44" cy="395" r="3.9" fill="#9467bd"/>
<line x1="1074.26" x2="1074.26" y1="403.2" y2="419.6" stroke="#9467bd" stroke-width="2.8"/>
<circle cx="1074.26" cy="411.4" r="3.9" fill="#9467bd"/>
<line x1="1083.08" x2="1083.08" y1="392.81" y2="411.39" stroke="#9467bd" stroke-width="2.8"/>
<circle cx="1083.08" cy="402.1" r="3.9" fill="#9467bd"/>
<line x1="1091.9" x2="1091.9" y1="392.81" y2="411.39" stroke="#9467bd" stroke-width="2.8"/>
<circle cx="1091.9" cy="402.1" r="3.9" fill="#9467bd"/>
<line x1="1100.72" x2="1100.72" y1="397.82" y2="415.38" stroke="#9467bd" stroke-width="2.8"/>
<circle cx="1100.72" cy="406.6" r="3.9" fill="#9467bd"/>
<line x1="1109.54" x2="1109.54" y1="403.2" y2="419.6" stroke="#9467bd" stroke-width="2.8"/>
<circle cx="1109.54" cy="411.4" r="3.9" fill="#9467bd"/>
<line x1="1118.36" x2="1118.36" y1="398.04" y2="415.56" stroke="#9467bd" stroke-width="2.8"/>
<circle cx="1118.36" cy="406.8" r="3.9" fill="#9467bd"/>
<line x1="1127.18" x2="1127.18" y1="400.84" y2="417.76" stroke="#9467bd" stroke-width="2.8"/>
<circle cx="1127.18" cy="409.3" r="3.9" fill="#9467bd"/>
<line x1="1136" x2="1136" y1="401.07" y2="417.93" stroke="#9467bd" stroke-width="2.8"/>
<circle cx="1136" cy="409.5" r="3.9" fill="#9467bd"/>
<line x1="1165.4" x2="1165.4" y1="416.97" y2="429.83" stroke="#9467bd" stroke-width="2.8"/>
<circle cx="1165.4" cy="423.4" r="3.9" fill="#9467bd"/>
<line x1="1194.8" x2="1194.8" y1="406.49" y2="422.11" stroke="#9467bd" stroke-width="2.8"/>
<circle cx="1194.8" cy="414.3" r="3.9" fill="#9467bd"/>
<line x1="1224.2" x2="1224.2" y1="401.07" y2="417.93" stroke="#9467bd" stroke-width="2.8"/>
<circle cx="1224.2" cy="409.5" r="3.9" fill="#9467bd"/>
<line x1="1253.6" x2="1253.6" y1="408.88" y2="423.92" stroke="#9467bd" stroke-width="2.8"/>
<circle cx="1253.6" cy="416.4" r="3.9" fill="#9467bd"/>
<line x1="1262.42" x2="1262.42" y1="420.17" y2="432.03" stroke="#9467bd" stroke-width="2.8"/>
<circle cx="1262.42" cy="426.1" r="3.9" fill="#9467bd"/>
<line x1="1271.24" x2="1271.24" y1="395.7" y2="413.7" stroke="#9467bd" stroke-width="2.8"/>
<circle cx="1271.24" cy="404.7" r="3.9" fill="#9467bd"/>
<line x1="1280.06" x2="1280.06" y1="422.69" y2="433.71" stroke="#9467bd" stroke-width="2.8"/>
<circle cx="1280.06" cy="428.2" r="3.9" fill="#9467bd"/>
<line x1="1288.88" x2="1288.88" y1="403.43" y2="419.77" stroke="#9467bd" stroke-width="2.8"/>
<circle cx="1288.88" cy="411.6" r="3.9" fill="#9467bd"/>
<line x1="1297.7" x2="1297.7" y1="403.43" y2="419.77" stroke="#9467bd" stroke-width="2.8"/>
<circle cx="1297.7" cy="411.6" r="3.9" fill="#9467bd"/>
<line x1="1306.52" x2="1306.52" y1="408.88" y2="423.92" stroke="#9467bd" stroke-width="2.8"/>
<circle cx="1306.52" cy="416.4" r="3.9" fill="#9467bd"/>
<line x1="1315.34" x2="1315.34" y1="408.88" y2="423.92" stroke="#9467bd" stroke-width="2.8"/>
<circle cx="1315.34" cy="416.4" r="3.9" fill="#9467bd"/>
<line x1="1324.16" x2="1324.16" y1="393.14" y2="411.66" stroke="#9467bd" stroke-width="2.8"/>
<circle cx="1324.16" cy="402.4" r="3.9" fill="#9467bd"/>
<line x1="1332.98" x2="1332.98" y1="414.29" y2="427.91" stroke="#9467bd" stroke-width="2.8"/>
<circle cx="1332.98" cy="421.1" r="3.9" fill="#9467bd"/>
<line x1="1341.8" x2="1341.8" y1="406.49" y2="422.11" stroke="#9467bd" stroke-width="2.8"/>
<circle cx="1341.8" cy="414.3" r="3.9" fill="#9467bd"/>
<rect x="1080.1" y="284.4" width="264.3" height="43.5" rx="3.8" fill="#fff" fill-opacity="0.8" stroke="#ccc" stroke-opacity="0.8" stroke-width="1.9"/>
<line x1="1114.2" x2="1114.2" y1="292.5" y2="316.9" stroke="#9467bd" stroke-width="2.4"/>
<circle cx="1114.2" cy="304.7" r="3.9" fill="#9467bd"/>
<text font-size="24.3" fill="#000"><tspan x="1158.45" y="313" font-size="25.76">(</tspan><tspan x="1167.59" y="311.9" font-style="italic">k</tspan><tspan x="1182.04" y="316" font-size="17.01">1</tspan><tspan x="1192.94" y="312.5" font-size="29.65">,</tspan><tspan x="1205.79" y="311.9" font-style="italic">k</tspan><tspan x="1219.97" y="316" font-size="17.01">2</tspan><tspan x="1231.65" y="313" font-size="25.76">)</tspan><tspan x="1245.57" y="311.9">=</tspan><tspan x="1271.25" y="313" font-size="25.76">(</tspan><tspan x="1280.18" y="311.9">1</tspan><tspan x="1295.94" y="312.5" font-size="29.65">,</tspan><tspan x="1308.58" y="311.9">0</tspan><tspan x="1324.4" y="313" font-size="25.76">)</tspan></text>
<rect x="1033.1" y="272" width="323.4" height="189.4" fill="none" stroke="#000" stroke-width="1.6"/>
<line x1="1398.6" x2="1398.6" y1="461.4" y2="467" stroke="#000" stroke-width="1.6"/>
<text x="1398.7" y="491.4" font-size="24.3" text-anchor="middle">0.0</text>
<line x1="1545.6" x2="1545.6" y1="461.4" y2="467" stroke="#000" stroke-width="1.6"/>
<text x="1545.7" y="491.4" font-size="24.3" text-anchor="middle">0.5</text>
<line x1="1692.6" x2="1692.6" y1="461.4" y2="467" stroke="#000" stroke-width="1.6"/>
<text x="1692.7" y="491.4" font-size="24.3" text-anchor="middle">1.0</text>
<polyline fill="none" stroke="#2ca02c" stroke-opacity="0.78" stroke-width="2.8" stroke-dasharray="8.4 3.8" points="1398.6,366.6 1407.42,385.6 1416.24,390.4 1425.06,395 1433.88,397.5 1442.7,387.9 1451.52,397.5 1460.34,378.4 1469.16,359.7 1477.98,381.1 1486.8,376.3 1516.2,376.3 1545.6,376.3 1575,387.9 1604.4,376.3 1613.22,357.2 1622.04,387.9 1630.86,378.4 1639.68,362 1648.5,352.4 1657.32,390.4 1666.14,362 1674.96,402.3 1683.78,395.2 1692.6,392.7"/>
<line x1="1398.6" x2="1398.6" y1="354.09" y2="379.11" stroke="#2ca02c" stroke-width="2.8"/>
<circle cx="1398.6" cy="366.6" r="3.9" fill="#2ca02c"/>
<line x1="1407.42" x2="1407.42" y1="374.67" y2="396.53" stroke="#2ca02c" stroke-width="2.8"/>
<circle cx="1407.42" cy="385.6" r="3.9" fill="#2ca02c"/>
<line x1="1416.24" x2="1416.24" y1="379.92" y2="400.88" stroke="#2ca02c" stroke-width="2.8"/>
<circle cx="1416.24" cy="390.4" r="3.9" fill="#2ca02c"/>
<line x1="1425.06" x2="1425.06" y1="384.96" y2="405.04" stroke="#2ca02c" stroke-width="2.8"/>
<circle cx="1425.06" cy="395" r="3.9" fill="#2ca02c"/>
<line x1="1433.88" x2="1433.88" y1="387.72" y2="407.28" stroke="#2ca02c" stroke-width="2.8"/>
<circle cx="1433.88" cy="397.5" r="3.9" fill="#2ca02c"/>
<line x1="1442.7" x2="1442.7" y1="377.18" y2="398.62" stroke="#2ca02c" stroke-width="2.8"/>
<circle cx="1442.7" cy="387.9" r="3.9" fill="#2ca02c"/>
<line x1="1451.52" x2="1451.52" y1="387.72" y2="407.28" stroke="#2ca02c" stroke-width="2.8"/>
<circle cx="1451.52" cy="397.5" r="3.9" fill="#2ca02c"/>
<line x1="1460.34" x2="1460.34" y1="366.84" y2="389.96" stroke="#2ca02c" stroke-width="2.8"/>
<circle cx="1460.34" cy="378.4" r="3.9" fill="#2ca02c"/>
<line x1="1469.16" x2="1469.16" y1="346.68" y2="372.72" stroke="#2ca02c" stroke-width="2.8"/>
<circle cx="1469.16" cy="359.7" r="3.9" fill="#2ca02c"/>
<line x1="1477.98" x2="1477.98" y1="369.77" y2="392.43" stroke="#2ca02c" stroke-width="2.8"/>
<circle cx="1477.98" cy="381.1" r="3.9" fill="#2ca02c"/>
<line x1="1486.8" x2="1486.8" y1="364.57" y2="388.03" stroke="#2ca02c" stroke-width="2.8"/>
<circle cx="1486.8" cy="376.3" r="3.9" fill="#2ca02c"/>
<line x1="1516.2" x2="1516.2" y1="364.57" y2="388.03" stroke="#2ca02c" stroke-width="2.8"/>
<circle cx="1516.2" cy="376.3" r="3.9" fill="#2ca02c"/>
<line x1="1545.6" x2="1545.6" y1="364.57" y2="388.03" stroke="#2ca02c" stroke-width="2.8"/>
<circle cx="1545.6" cy="376.3" r="3.9" fill="#2ca02c"/>
<line x1="1575" x2="1575" y1="377.18" y2="398.62" stroke="#2ca02c" stroke-width="2.8"/>
<circle cx="1575" cy="387.9" r="3.9" fill="#2ca02c"/>
<line x1="1604.4" x2="1604.4" y1="364.57" y2="388.03" stroke="#2ca02c" stroke-width="2.8"/>
<circle cx="1604.4" cy="376.3" r="3.9" fill="#2ca02c"/>
<line x1="1613.22" x2="1613.22" y1="344" y2="370.4" stroke="#2ca02c" stroke-width="2.8"/>
<circle cx="1613.22" cy="357.2" r="3.9" fill="#2ca02c"/>
<line x1="1622.04" x2="1622.04" y1="377.18" y2="398.62" stroke="#2ca02c" stroke-width="2.8"/>
<circle cx="1622.04" cy="387.9" r="3.9" fill="#2ca02c"/>
<line x1="1630.86" x2="1630.86" y1="366.84" y2="389.96" stroke="#2ca02c" stroke-width="2.8"/>
<circle cx="1630.86" cy="378.4" r="3.9" fill="#2ca02c"/>
<line x1="1639.68" x2="1639.68" y1="349.15" y2="374.85" stroke="#2ca02c" stroke-width="2.8"/>
<circle cx="1639.68" cy="362" r="3.9" fill="#2ca02c"/>
<line x1="1648.5" x2="1648.5" y1="338.86" y2="365.94" stroke="#2ca02c" stroke-width="2.8"/>
<circle cx="1648.5" cy="352.4" r="3.9" fill="#2ca02c"/>
<line x1="1657.32" x2="1657.32" y1="379.92" y2="400.88" stroke="#2ca02c" stroke-width="2.8"/>
<circle cx="1657.32" cy="390.4" r="3.9" fill="#2ca02c"/>
<line x1="1666.14" x2="1666.14" y1="349.15" y2="374.85" stroke="#2ca02c" stroke-width="2.8"/>
<circle cx="1666.14" cy="362" r="3.9" fill="#2ca02c"/>
<line x1="1674.96" x2="1674.96" y1="393.03" y2="411.57" stroke="#2ca02c" stroke-width="2.8"/>
<circle cx="1674.96" cy="402.3" r="3.9" fill="#2ca02c"/>
<line x1="1683.78" x2="1683.78" y1="385.18" y2="405.22" stroke="#2ca02c" stroke-width="2.8"/>
<circle cx="1683.78" cy="395.2" r="3.9" fill="#2ca02c"/>
<line x1="1692.6" x2="1692.6" y1="382.44" y2="402.96" stroke="#2ca02c" stroke-width="2.8"/>
<circle cx="1692.6" cy="392.7" r="3.9" fill="#2ca02c"/>
<rect x="1430.9" y="284.4" width="264.3" height="43.5" rx="3.8" fill="#fff" fill-opacity="0.8" stroke="#ccc" stroke-opacity="0.8" stroke-width="1.9"/>
<line x1="1465" x2="1465" y1="292.5" y2="316.9" stroke="#2ca02c" stroke-width="2.4"/>
<circle cx="1465" cy="304.7" r="3.9" fill="#2ca02c"/>
<text font-size="24.3" fill="#000"><tspan x="1509.25" y="313" font-size="25.76">(</tspan><tspan x="1518.39" y="311.9" font-style="italic">k</tspan><tspan x="1532.84" y="316" font-size="17.01">1</tspan><tspan x="1543.74" y="312.5" font-size="29.65">,</tspan><tspan x="1556.59" y="311.9" font-style="italic">k</tspan><tspan x="1570.77" y="316" font-size="17.01">2</tspan><tspan x="1582.45" y="313" font-size="25.76">)</tspan><tspan x="1596.37" y="311.9">=</tspan><tspan x="1622.05" y="313" font-size="25.76">(</tspan><tspan x="1630.98" y="311.9">1</tspan><tspan x="1646.74" y="312.5" font-size="29.65">,</tspan><tspan x="1659.38" y="311.9">1</tspan><tspan x="1675.2" y="313" font-size="25.76">)</tspan></text>
<rect x="1383.9" y="272" width="323.4" height="189.4" fill="none" stroke="#000" stroke-width="1.6"/>
<text x="477.5" y="509.9" font-size="24.5" text-anchor="middle"><tspan font-style="italic">α</tspan> (<tspan font-style="italic">π</tspan>/2)</text>
<text x="1370.3" y="519.8" font-size="24.5" text-anchor="middle"><tspan font-style="italic">α</tspan> (<tspan font-style="italic">π</tspan>/2)</text>
<text transform="translate(60.9 256.1) rotate(-90) scale(1 0.945)" font-size="24.4" text-anchor="middle">probability of rejection</text>
<text transform="translate(950 261) rotate(-90) scale(1 0.945)" font-size="24.4" text-anchor="middle">probability of rejection</text>
<text class="t" x="7.1 18 34" y="20.5" font-size="24.2" fill="#333">(a)</text>
<text class="t" x="60.9" y="20.5" font-size="24.2" font-weight="bold" fill="#333" xml:space="preserve"><tspan dx="0" letter-spacing="0.15">TEST </tspan><tspan dx="-1.1" letter-spacing="0.35">ROUNDS</tspan></text>
<text class="t" x="897.4 908.3 924.3" y="18.6" font-size="24.2" fill="#333">(b)</text>
<text class="t" x="952.2" y="18.6" font-size="24.2" font-weight="bold" fill="#333" xml:space="preserve"><tspan dx="0" letter-spacing="0.2">TEST </tspan><tspan dx="0.6" letter-spacing="0.2">I</tspan><tspan dx="1.7" letter-spacing="0.2">N </tspan><tspan dx="-0.7" letter-spacing="0.0">MEASUREMENT </tspan><tspan dx="-0.2" letter-spacing="0.45">ROUNDS</tspan></text>
</svg>
</body></html>
